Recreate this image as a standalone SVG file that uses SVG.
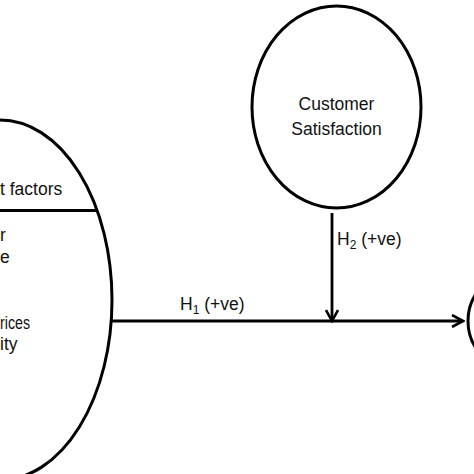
<svg xmlns="http://www.w3.org/2000/svg" width="474" height="474" viewBox="0 0 474 474">
<defs>
<style>
.node{fill:#fff;stroke:#000;stroke-width:3}
.t{font-family:"Liberation Sans",Arial,sans-serif;font-size:17.5px;fill:#111}
.c{stroke:#000;stroke-width:2.8;fill:none}
.sub{font-size:12px}
</style>
<marker id="ah" viewBox="0 0 14 14" markerWidth="14" markerHeight="14" refX="12.5" refY="7" orient="auto" markerUnits="userSpaceOnUse">
<path d="M1.5,1 L12.5,7 L1.5,13" fill="none" stroke="#000" stroke-width="2.6"/>
</marker>
</defs>
<rect width="474" height="474" fill="#fff"/>
<g id="node-left">
<ellipse class="node" cx="0" cy="300" rx="112" ry="180"/>
<line x1="0" y1="210.5" x2="97" y2="210.5" stroke="#000" stroke-width="2.8"/>
<text class="t" x="0" y="195">t factors</text>
<text class="t" x="0" y="241">r</text>
<text class="t" x="0" y="263">e</text>
<text class="t" x="0" y="329" textLength="30" lengthAdjust="spacingAndGlyphs">rices</text>
<text class="t" x="0" y="350">ity</text>
</g>
<g id="node-satisfaction">
<ellipse class="node" cx="336.5" cy="107" rx="84.5" ry="101"/>
<text class="t" x="336.5" y="110" text-anchor="middle">Customer</text>
<text class="t" x="336.5" y="135" text-anchor="middle">Satisfaction</text>
</g>
<g id="node-right">
<ellipse class="node" cx="518" cy="321" rx="50" ry="50"/>
</g>
<g id="connectors">
<line class="c" x1="112" y1="321" x2="463" y2="321" marker-end="url(#ah)"/>
<line class="c" x1="332" y1="213" x2="332" y2="321" marker-end="url(#ah)"/>
<text class="t" x="180" y="310">H<tspan class="sub" dy="4">1</tspan><tspan dy="-4"> (+ve)</tspan></text>
<text class="t" x="337" y="245">H<tspan class="sub" dy="4">2</tspan><tspan dy="-4"> (+ve)</tspan></text>
</g>
</svg>
